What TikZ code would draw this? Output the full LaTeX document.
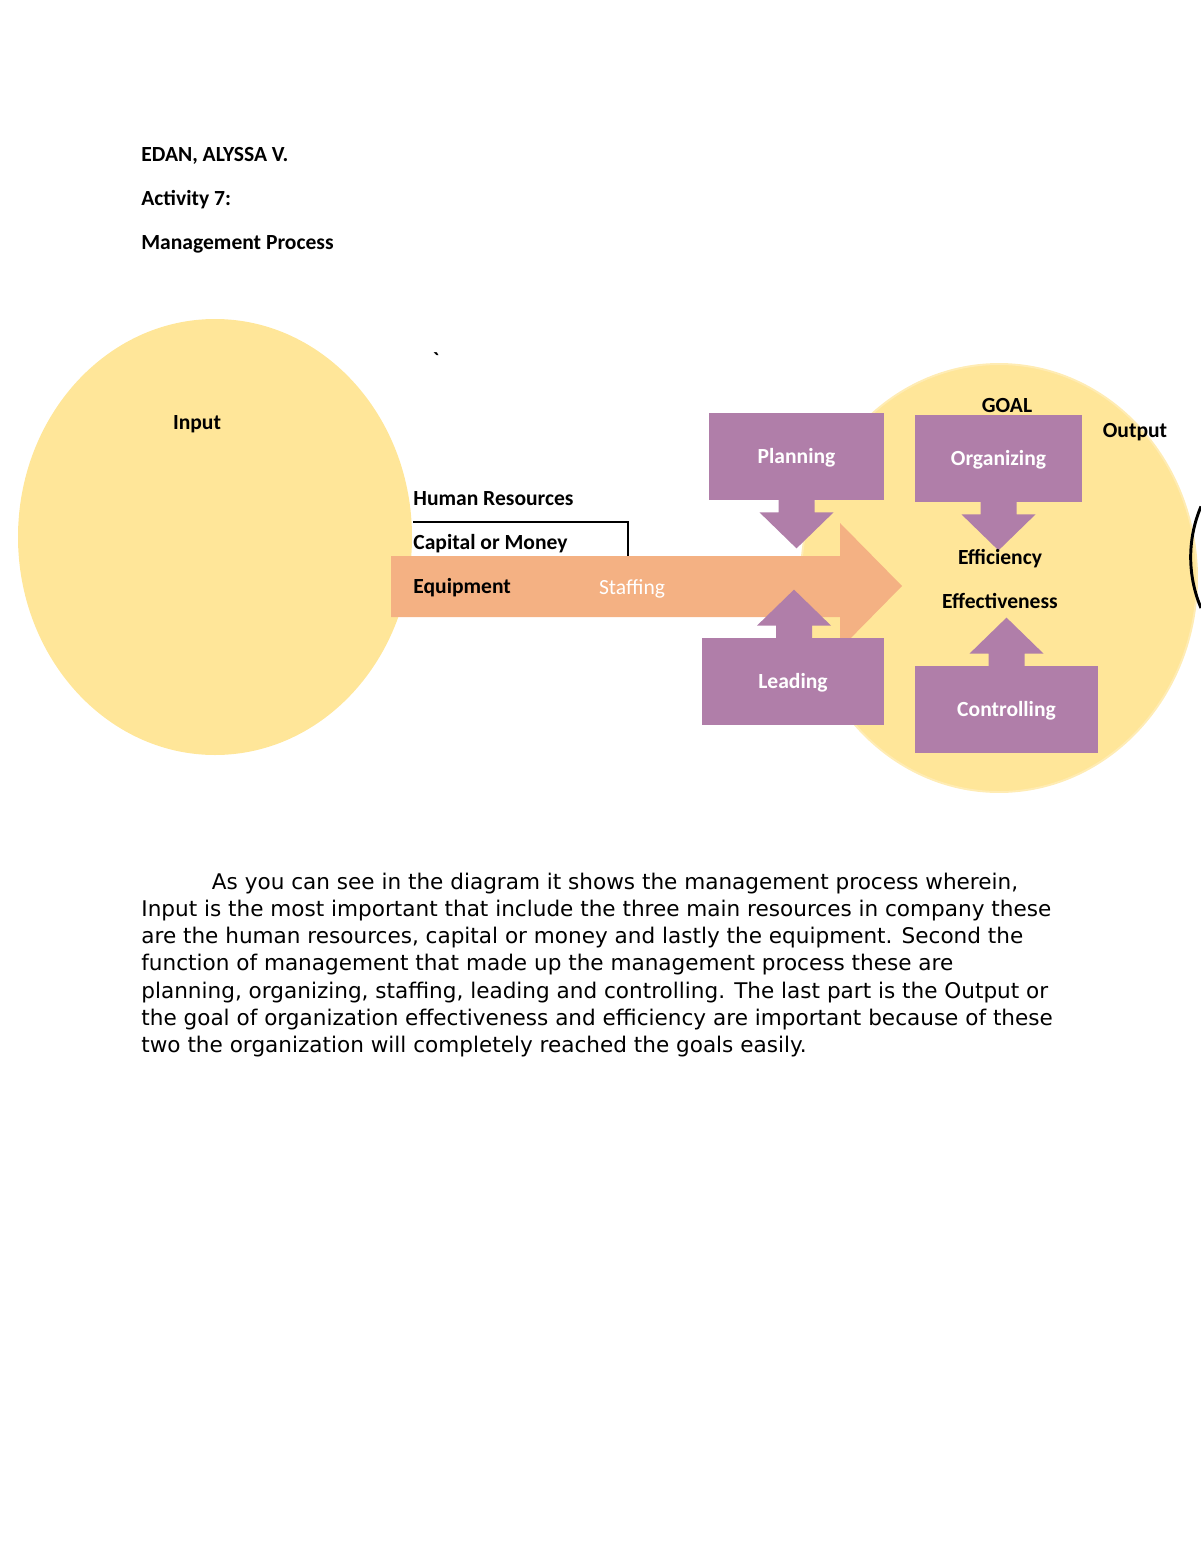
\documentclass[tikz,border=0pt]{standalone}
\usepackage{fontspec}
\setmainfont{Carlito}
\newfontfamily\parafont{DejaVu Sans}
\usepackage{tikz}
\usepackage{xcolor}
\usetikzlibrary{positioning}
\definecolor{mpyellow}{RGB}{255, 230, 153}
\definecolor{mprim}{RGB}{255, 236, 180}
\definecolor{mporange}{RGB}{244, 177, 131}
\definecolor{mppurple}{RGB}{176, 126, 169}
\newcommand{\pxu}{0.51pt}
\tikzset{
    headtext/.style={anchor=base west, inner sep=0pt, font=\fontsize{11}{13}\selectfont\bfseries},
    blacklabel/.style={inner sep=0pt, font=\fontsize{11}{13}\selectfont\bfseries, text=black},
    procbox/.style={rectangle, fill=mppurple, inner sep=0pt, minimum height=87*\pxu,
        text=white, text height=7pt, text depth=0pt, font=\fontsize{11}{13}\selectfont\bfseries},
    blockarrow/.pic={\fill[mppurple] (-18,-1) -- (-18,12) -- (-37,12) -- (0,48) -- (37,12) -- (18,12) -- (18,-1) -- cycle;}
}
\begin{document}
\begin{tikzpicture}[x=0.51pt, y=-0.51pt]
    \useasboundingbox (0,0) rectangle (1200,1553);
    % header
    \node[headtext] (name) at (141,162) {EDAN, ALYSSA V.};
    \node[headtext] (act) at (141,206) {Activity 7:};
    \node[headtext] (title) at (141,249) {Management Process};
    \node[blacklabel, anchor=base] (tick) at (436,367) {\textasciigrave};
    % input and output circles
    \fill[mpyellow] (215,537) ellipse [x radius=197, y radius=218];
    \filldraw[fill=mpyellow, draw=mprim, line width=1] (999,578) ellipse [x radius=198, y radius=214];
    \draw[line width=1.5pt] (1201,608) arc [start angle=157, end angle=203, radius=130];
    % resources
    \draw[line width=1pt] (413,522) -- (628,522) -- (628,557);
    \fill[mporange] (391,556) -- (840,556) -- (840,523) -- (902,586) -- (840,649) -- (840,617) -- (391,617) -- cycle;
    \node[blacklabel, anchor=base] (input) at (197,429) {Input};
    \node[blacklabel, anchor=base west] (hr) at (413,505) {Human Resources};
    \node[blacklabel, anchor=base west] (money) at (413,549) {Capital or Money};
    \node[blacklabel, anchor=base west] (equip) at (413,593) {Equipment};
    \node[inner sep=0pt, anchor=base, text=white, font=\fontsize{11}{13}\selectfont] (staff) at (632,594) {Staffing};
    % functions
    \node[procbox, minimum width=175*\pxu] (plan) at (796.5,456.5) {Planning};
    \node[procbox, minimum width=167*\pxu] (org) at (998.5,458.5) {Organizing};
    \node[procbox, minimum width=182*\pxu] (lead) at (793,681.5) {Leading};
    \node[procbox, minimum width=183*\pxu] (ctrl) at (1006.5,709.5) {Controlling};
    \pic at (plan.south) {blockarrow};
    \pic at (org.south) {blockarrow};
    \pic[rotate=180] at ([xshift=1*\pxu]lead.north) {blockarrow};
    \pic[rotate=180] at (ctrl.north) {blockarrow};
    % goal
    \node[blacklabel, anchor=base] (goal) at (1007,412) {GOAL};
    \node[blacklabel, anchor=base] (output) at (1135,437) {Output};
    \node[blacklabel, anchor=base] (eff) at (1000,564) {Efficiency};
    \node[blacklabel, anchor=base] (effect) at (1000,608) {Effectiveness};
    % explanation
    \node[anchor=north west, inner sep=0pt, align=left, font=\parafont\fontsize{11}{13.87}\selectfont] (para) at (141,872.5)
        {\hspace*{36pt}As you can see in the diagram it shows the management process wherein,\\
        Input is the most important that include the three main resources in company these\\
        are the human resources, capital or money and lastly the equipment. Second the\\
        function of management that made up the management process these are\\
        planning, organizing, staffing, leading and controlling. The last part is the Output or\\
        the goal of organization effectiveness and efficiency are important because of these\\
        two the organization will completely reached the goals easily.};
\end{tikzpicture}
\end{document}
